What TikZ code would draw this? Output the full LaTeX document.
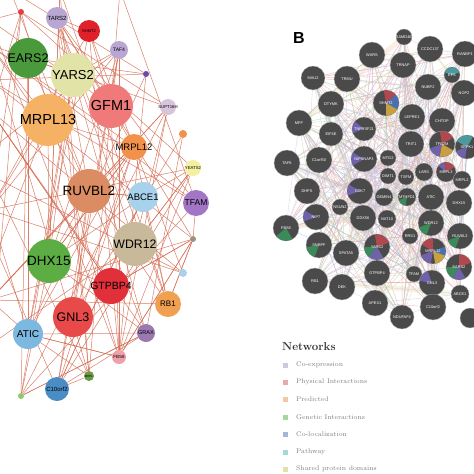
\documentclass[tikz,border=0pt]{standalone}
\usepackage{fontspec}
\newfontfamily\arial{Liberation Sans}
\usetikzlibrary{calc}
\pgfdeclarelayer{bgw}\pgfdeclarelayer{edges}\pgfdeclarelayer{txt}
\pgfsetlayers{bgw,edges,main,txt}
\definecolor{edgeL}{HTML}{D4694F}
\definecolor{lred}{HTML}{E04040}
\definecolor{lav}{HTML}{B9A6D2}
\definecolor{cred}{HTML}{E0202A}
\definecolor{cgreen}{HTML}{4A9A3C}
\definecolor{cyell}{HTML}{E2E3A6}
\definecolor{cpurp}{HTML}{6A4AA8}
\definecolor{csalm}{HTML}{F07A7A}
\definecolor{corange}{HTML}{F6B264}
\definecolor{clpink}{HTML}{D8C4DC}
\definecolor{corange2}{HTML}{F2914A}
\definecolor{cpyell}{HTML}{F4F0A0}
\definecolor{ccopper}{HTML}{DB8C62}
\definecolor{clblue}{HTML}{A8D2EC}
\definecolor{cviol}{HTML}{A276C4}
\definecolor{cgray}{HTML}{A09080}
\definecolor{ctan}{HTML}{C9B99B}
\definecolor{cgreen2}{HTML}{5CAE44}
\definecolor{cred2}{HTML}{E2303A}
\definecolor{corange3}{HTML}{F0A050}
\definecolor{cred3}{HTML}{E84A4A}
\definecolor{cblue}{HTML}{7CB8E0}
\definecolor{cpurp2}{HTML}{9A78B0}
\definecolor{cpink}{HTML}{F0A0A8}
\definecolor{cgreen3}{HTML}{6A9A48}
\definecolor{cblue2}{HTML}{4A8CC4}
\definecolor{cgreen4}{HTML}{90C870}
\definecolor{nodegray}{HTML}{4A4A4A}
\definecolor{pred}{HTML}{B04850}
\definecolor{pteal}{HTML}{4A9A9E}
\definecolor{porange}{HTML}{C8A040}
\definecolor{ppurp}{HTML}{7062AA}
\definecolor{pgreen}{HTML}{3A8A5A}
\definecolor{pblue}{HTML}{4A70B0}
\definecolor{lc1}{HTML}{D2C6DE}
\definecolor{lc2}{HTML}{E8A8AE}
\definecolor{lc3}{HTML}{F2C8A0}
\definecolor{lc4}{HTML}{A8D6A2}
\definecolor{lc5}{HTML}{A4B6DA}
\definecolor{lc6}{HTML}{A2DAD6}
\definecolor{lc7}{HTML}{E4E0A8}
\definecolor{legtext}{HTML}{808080}
\colorlet{ec1}{lc1}\colorlet{ec2}{lc1}\colorlet{ec3}{lc1}\colorlet{ec4}{lc2}
\colorlet{ec5}{lc2}\colorlet{ec6}{lc3}\colorlet{ec7}{lc4}\colorlet{ec8}{lc5}
\colorlet{ec9}{lc1}\colorlet{ec10}{lc7}
\tikzset{
  lnode/.style={circle,inner sep=0pt,draw=none},
  rnode/.style={circle,inner sep=0pt,fill=nodegray,draw=white!70!black,line width=0.3pt},
  rtext/.style={font=\arial\fontsize{3.9}{4}\selectfont,text=white,inner sep=0pt},
  ledge/.style={draw=edgeL,line width=0.5pt,opacity=0.85},
  redge/.style={line width=0.4pt,opacity=0.7},
  band/.style={line width=5pt,opacity=0.3},
  legsq/.style={minimum size=5pt,inner sep=0pt,draw=none},
  legtxt/.style={font=\fontsize{6.8}{7}\selectfont,text=legtext,anchor=west,inner sep=0pt},
}
\newcommand\LN[7]{\node[lnode,fill=#5,minimum size=#4*2pt,
  label={[font=\arial\fontsize{#7}{#7}\selectfont,text=black,inner sep=0pt]center:#6}] (L#1) at (#2,#3) {};}
\newcommand\RN[5]{\node[rnode,minimum size=#4*2pt] (R#1) at (#2,#3) {};
  \begin{pgfonlayer}{txt}\node[rtext] at (#2,#3) {#5};\end{pgfonlayer}}
\newcommand\pie[5]{\fill[#5] (R#1.center) -- ++({-(#3)}:#2) arc[start angle={-(#3)},end angle={-(#4)},radius=#2] -- cycle;}
\begin{document}
\begin{tikzpicture}[x=1pt,y=-1pt]
\useasboundingbox (0,0) rectangle (474,474);
\begin{pgfonlayer}{bgw}\fill[white] (0,0) rectangle (474,474);\end{pgfonlayer}
% ---------------- panel A ----------------
\LN{1}{21}{12}{3}{lred}{}{3}
\LN{2}{57}{18}{11}{lav}{TARS2}{6}
\LN{3}{89}{31}{11}{cred}{SHMT2}{4}
\LN{4}{28}{58}{20}{cgreen}{EARS2}{12.5}
\LN{5}{73}{75}{22}{cyell}{YARS2}{13}
\LN{6}{119}{50}{9}{lav}{TAF4}{5}
\LN{7}{146}{74}{3}{cpurp}{}{3}
\LN{8}{111}{106}{22}{csalm}{GFM1}{14.5}
\LN{9}{48}{120}{26}{corange}{MRPL13}{14.5}
\LN{10}{168}{107}{8}{clpink}{SUPT16H}{4.3}
\LN{11}{183}{134}{4}{corange2}{}{3}
\LN{12}{134}{147}{13}{corange2}{MRPL12}{9.5}
\LN{13}{193}{168}{8}{cpyell}{YEATS2}{4.3}
\LN{14}{89}{191}{22}{ccopper}{RUVBL2}{13.5}
\LN{15}{143}{197}{15}{clblue}{ABCE1}{9.5}
\LN{16}{196}{203}{13}{cviol}{TFAM}{8.5}
\LN{17}{193}{239}{3}{cgray}{}{3}
\LN{18}{135}{244}{22}{ctan}{WDR12}{12.3}
\LN{19}{49}{261}{22}{cgreen2}{DHX15}{13.5}
\LN{20}{183}{273}{4}{clblue}{}{3}
\LN{21}{111}{286}{18}{cred2}{GTPBP4}{10.5}
\LN{22}{168}{304}{13}{corange3}{RB1}{8}
\LN{23}{73}{317}{20}{cred3}{GNL3}{12.5}
\LN{24}{28}{334}{15}{cblue}{ATIC}{10}
\LN{25}{146}{333}{9}{cpurp2}{GRAX}{5.5}
\LN{26}{119}{357}{7}{cpink}{FBS8}{4.5}
\LN{27}{89}{376}{5}{cgreen3}{MRPL}{3}
\LN{28}{57}{389}{12}{cblue2}{C10orf2}{6}
\LN{29}{21}{396}{3}{cgreen4}{}{3}
\coordinate (L30) at (-10,20);  \coordinate (L31) at (-10,45);
\coordinate (L32) at (-10,80);  \coordinate (L33) at (-10,110);
\coordinate (L34) at (-10,150); \coordinate (L35) at (-10,175);
\coordinate (L36) at (-10,210); \coordinate (L37) at (-10,235);
\coordinate (L38) at (-10,270); \coordinate (L39) at (-10,300);
\coordinate (L40) at (-10,345); \coordinate (L41) at (-10,370);
\coordinate (L42) at (-10,405); \coordinate (L43) at (10,-10);
\coordinate (L44) at (60,-10);  \coordinate (L45) at (120,-10);
\begin{pgfonlayer}{edges}
\pgfmathsetseed{11}
\foreach \i in {1,...,130}{
  \pgfmathtruncatemacro\a{random(1,29)}
  \pgfmathtruncatemacro\b{random(1,45)}
  \ifnum\a=\b\else\draw[ledge] (L\a) -- (L\b);\fi}
\end{pgfonlayer}
% ---------------- panel B ----------------
\node[font=\arial\bfseries\fontsize{16}{16}\selectfont,inner sep=0pt] (lblB) at (299,38) {B};
\RN{1}{404}{37}{8}{SAMD4B}
\RN{2}{372}{55}{13}{WARS}
\RN{3}{430}{49}{13}{CCDC137}
\RN{4}{465}{54}{13}{RANBP1}
\RN{5}{403}{65}{13}{TRNAP}
\RN{6}{313}{78}{12}{MAU2}
\RN{7}{347}{79}{13}{TRMU}
\RN{8}{428}{87}{13}{NUBP2}
\RN{9}{452}{75}{8}{EFS}
\RN{10}{464}{93}{13}{NOP2}
\RN{11}{331}{104}{13}{DTYMK}
\RN{12}{386}{103}{13}{SHMT2}
\RN{13}{412}{117}{13}{LEPRE1}
\RN{14}{442}{121}{13}{CHTOP}
\RN{15}{299}{123}{13}{MFF}
\RN{16}{331}{134}{12}{EIF4E}
\RN{17}{364}{129}{12}{TNFRSF21}
\RN{18}{411}{144}{13}{TRIT1}
\RN{19}{442}{144}{13}{TFB2M}
\RN{20}{467}{147}{12}{SRPK1}
\RN{21}{287}{163}{13}{TAF6}
\RN{22}{319}{160}{13}{C1orf50}
\RN{23}{364}{159}{13}{NIPSNAP3}
\RN{24}{388}{158}{8}{MTG2}
\RN{25}{388}{176}{8}{DIMT1}
\RN{26}{406}{177}{8}{TSFM}
\RN{27}{424}{172}{9}{LARS}
\RN{28}{446}{172}{10}{MRPL3}
\RN{29}{462}{180}{9}{MRPL2}
\RN{30}{307}{191}{13}{DHPS}
\RN{31}{360}{191}{13}{CDK7}
\RN{32}{384}{197}{9}{GEMIN4}
\RN{33}{407}{197}{9}{MTHFD1}
\RN{34}{431}{197}{13}{ATIC}
\RN{35}{459}{203}{13}{DHX15}
\RN{36}{340}{207}{8}{NSUN2}
\RN{37}{316}{217}{13}{NIP7}
\RN{38}{363}{218}{13}{DDX56}
\RN{39}{387}{219}{9}{NAT10}
\RN{40}{431}{223}{13}{WDR12}
\RN{41}{286}{228}{13}{FBS8}
\RN{42}{410}{236}{8}{RRS1}
\RN{43}{319}{245}{13}{SNRPF}
\RN{44}{346}{253}{13}{SPATA5}
\RN{45}{377}{247}{13}{YARS2}
\RN{46}{433}{251}{13}{MRPL12}
\RN{47}{460}{236}{13}{RUVBL2}
\RN{48}{459}{267}{13}{EARS2}
\RN{49}{315}{281}{13}{RB1}
\RN{50}{414}{274}{8}{TFAM}
\RN{51}{377}{273}{13}{GTPBP4}
\RN{52}{432}{283}{13}{GNL3}
\RN{53}{342}{287}{13}{DEK}
\RN{54}{460}{294}{9}{ABCE1}
\RN{55}{375}{303}{13}{APEX1}
\RN{56}{433}{307}{13}{C10orf2}
\RN{57}{402}{317}{12}{NDUFAF4}
\RN{58}{470}{318}{10}{}
% pies
\pie{12}{12.7}{40}{100}{pred}\pie{12}{12.7}{-30}{40}{pblue}\pie{12}{12.7}{-90}{-30}{porange}
\pie{19}{12.7}{30}{100}{pred}\pie{19}{12.7}{200}{260}{ppurp}\pie{19}{12.7}{260}{330}{porange}
\pie{20}{11.7}{60}{150}{pteal}\pie{20}{11.7}{200}{260}{ppurp}
\pie{28}{9.7}{30}{100}{pred}\pie{28}{9.7}{100}{140}{ppurp}
\pie{45}{12.7}{20}{100}{pred}\pie{45}{12.7}{180}{230}{pgreen}\pie{45}{12.7}{230}{300}{ppurp}
\pie{46}{12.7}{90}{150}{pred}\pie{46}{12.7}{200}{260}{ppurp}\pie{46}{12.7}{280}{340}{porange}\pie{46}{12.7}{-20}{20}{pblue}
\pie{48}{12.7}{20}{90}{pred}\pie{48}{12.7}{180}{240}{pgreen}\pie{48}{12.7}{240}{300}{ppurp}
\pie{31}{12.7}{150}{200}{ppurp}
\pie{23}{12.7}{150}{210}{ppurp}
\pie{37}{12.7}{150}{200}{ppurp}
\pie{17}{11.7}{140}{200}{ppurp}
\pie{33}{8.7}{200}{260}{pgreen}
\pie{40}{12.7}{200}{250}{pgreen}
\pie{41}{12.7}{220}{300}{pgreen}
\pie{43}{12.7}{190}{250}{pgreen}
\pie{47}{12.7}{200}{250}{pgreen}
\pie{52}{12.7}{110}{170}{ppurp}
\pie{9}{7.7}{20}{160}{pteal}
\begin{pgfonlayer}{edges}
\draw[band,draw=lc3] (R1) -- (R15);
\draw[band,draw=lc3] (R41) -- (R38);
\draw[band,draw=lc7] (R49) -- (R54);
\draw[band,draw=lc1] (R21) -- (R47);
\draw[band,draw=lc2,line width=3pt] (R6) -- (R45);
\pgfmathsetseed{5}
\foreach \i in {1,...,600}{
  \pgfmathtruncatemacro\a{random(1,57)}
  \pgfmathtruncatemacro\b{random(1,57)}
  \pgfmathtruncatemacro\c{random(1,10)}
  \ifnum\a=\b\else\draw[redge,draw=ec\c] (R\a) -- (R\b);\fi}
\end{pgfonlayer}
% legend
\node[font=\bfseries\fontsize{11.5}{12}\selectfont,text=black!80,anchor=west,inner sep=0pt] (nettitle) at (282,347) {Networks};
\node[legsq,fill=lc1] (s1) at (285,365) {}; \node[legtxt] (t1) at (296,365) {Co-expression};
\node[legsq,fill=lc2] (s2) at (285,382) {}; \node[legtxt] (t2) at (296,382) {Physical Interactions};
\node[legsq,fill=lc3] (s3) at (285,399) {}; \node[legtxt] (t3) at (296,399) {Predicted};
\node[legsq,fill=lc4] (s4) at (285,417) {}; \node[legtxt] (t4) at (296,417) {Genetic Interactions};
\node[legsq,fill=lc5] (s5) at (285,434) {}; \node[legtxt] (t5) at (296,434) {Co-localization};
\node[legsq,fill=lc6] (s6) at (285,452) {}; \node[legtxt] (t6) at (296,452) {Pathway};
\node[legsq,fill=lc7] (s7) at (285,469) {}; \node[legtxt] (t7) at (296,469) {Shared protein domains};
\end{tikzpicture}
\end{document}
